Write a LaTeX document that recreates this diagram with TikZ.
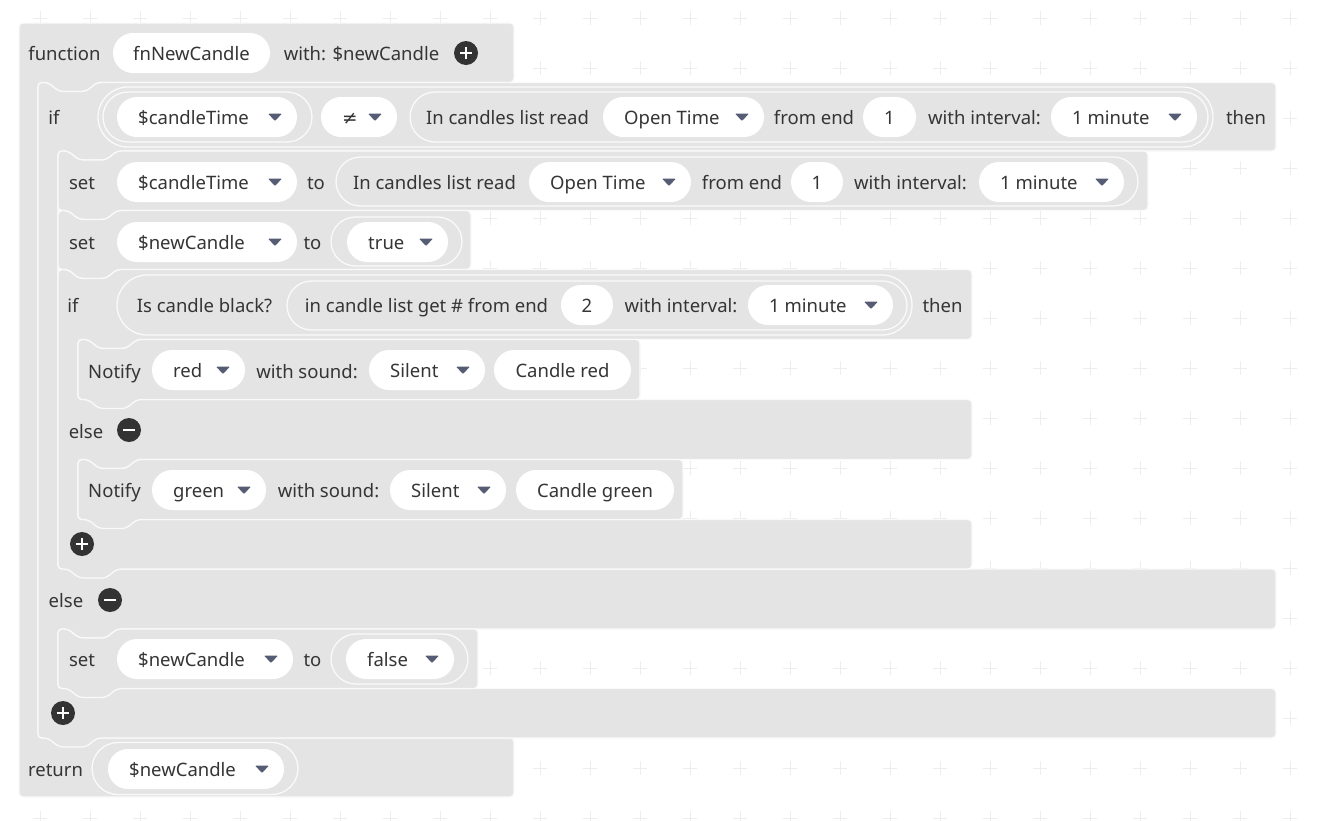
\documentclass[tikz,border=0pt]{standalone}
\usepackage{fontspec}
\setmainfont{Noto Sans}
\newfontfamily\symbolfont{DejaVu Sans}
\usepackage{xcolor}
\usepackage{tikz}
\usetikzlibrary{shapes.misc}

\definecolor{blockgray}{HTML}{E4E4E4}
\definecolor{edgewhite}{HTML}{FAFAFA}
\definecolor{labelgray}{HTML}{353535}
\definecolor{arrowslate}{HTML}{565C73}
\definecolor{icondark}{HTML}{333333}
\definecolor{gridgray}{HTML}{EDEDED}

% statement block: x1, x2, top, bottom
\newcommand{\stmtblock}[4]{%
  \draw[block] (#1,#3+10) -- (#1,#3) -- (#1+10,#3) -- (#1+21,#3+9) -- (#1+48,#3+9) -- (#1+59,#3)
    -- (#2,#3) -- (#2,#4) -- (#1+59,#4) -- (#1+48,#4+9) -- (#1+21,#4+9) -- (#1+10,#4) -- (#1,#4) -- cycle;}

% if/else block: x1, x2, then y0 ... y5
\newcommand{\ifelseblock}[8]{%
  \draw[block] (#1,#3+10) -- (#1,#3) -- (#1+10,#3) -- (#1+21,#3+9) -- (#1+48,#3+9) -- (#1+59,#3)
    -- (#2,#3) -- (#2,#4)
    -- (#1+79,#4) -- (#1+68,#4+9) -- (#1+41,#4+9) -- (#1+30,#4) -- (#1+20,#4) -- (#1+20,#5) -- (#2,#5) -- (#2,#6)
    -- (#1+79,#6) -- (#1+68,#6+9) -- (#1+41,#6+9) -- (#1+30,#6) -- (#1+20,#6) -- (#1+20,#7) -- (#2,#7) -- (#2,#8)
    -- (#1+59,#8) -- (#1+48,#8+9) -- (#1+21,#8+9) -- (#1+10,#8) -- (#1,#8) -- cycle;}

% value block outline: name, x1, x2, y, height
\newcommand{\reporter}[5]{%
  \node[reporter, minimum width={#3-#2}, minimum height=#5] (#1) at ({(#2+#3)/2},#4) {};}

% white field with dropdown: name, x1, x2, y, text
\newcommand{\dropfield}[5]{%
  \node[field, minimum width={#3-#2}] (#1) at ({(#2+#3)/2},#4) {};
  \node[blocktext, anchor=west] (#1_text) at (#2+21,#4) {#5};
  \fill[arrowslate, rounded corners=1pt] (#3-29,#4-3.5) -- (#3-15,#4-3.5) -- (#3-22,#4+4) -- cycle;}

% white field with plain text: name, x1, x2, y, text
\newcommand{\textfield}[5]{%
  \node[field, minimum width={#3-#2}] (#1) at ({(#2+#3)/2},#4) {#5};}

\begin{document}
\begin{tikzpicture}[x=1pt, y=-1pt,
  block/.style={fill=blockgray, draw=edgewhite, line width=1.3pt, rounded corners=4pt},
  reporter/.style={rounded rectangle, fill=blockgray, draw=edgewhite, line width=1.3pt, inner sep=0pt},
  field/.style={rounded rectangle, fill=white, inner sep=0pt, minimum height=40pt,
    text height=16pt, text depth=2pt, font=\fontsize{18.5}{22}\selectfont, text=labelgray},
  blocktext/.style={inner sep=0pt, text height=16pt, text depth=2pt,
    font=\fontsize{18.5}{22}\selectfont, text=labelgray},
  icon/.style={circle, fill=icondark, minimum size=24pt, inner sep=0pt},
  iconbar/.style={draw=white, line width=2.6pt},
  gridline/.style={draw=gridgray, line width=1pt}]
  \useasboundingbox (0,0) rectangle (1324,820);

  % Workspace grid
  \foreach \gx in {40,90,...,1290}
    \foreach \gy in {18,68,...,818}
      \draw[gridline] (\gx-7,\gy) -- (\gx+7,\gy) (\gx,\gy-7) -- (\gx,\gy+7);

  % Function block
  \draw[block] (19,30) -- (19,23) -- (514,23) -- (514,82.5) -- (97,82.5) -- (86,91.5) -- (59,91.5)
    -- (48,82.5) -- (38,82.5) -- (38,738) -- (514,738) -- (514,797) -- (19,797) -- cycle;

  % Outer if / else
  \ifelseblock{38}{1276}{82.5}{151}{569}{629}{688.5}{738}
  \stmtblock{58}{1148}{151}{210.5}
  \stmtblock{58}{471}{210.5}{269.5}

  % Inner if / else
  \ifelseblock{58}{972}{269.5}{339.5}{399.5}{459.5}{519.5}{569}
  \stmtblock{78}{640}{339.5}{399.5}
  \stmtblock{78}{683}{459.5}{519.5}

  % Else branch of outer if
  \stmtblock{58}{478}{629}{688.5}

  % Value blocks
  \reporter{cmp_block}{98}{1213}{117}{60}
  \reporter{var_block}{103}{312}{117}{50}
  \reporter{read_block_a}{410}{1208}{117}{50}
  \reporter{read_block_b}{336}{1138}{181.5}{49}
  \reporter{true_block}{331}{462}{241.5}{49}
  \reporter{black_block}{117}{912}{305}{60}
  \reporter{get_block}{287}{907}{305.5}{49}
  \reporter{false_block}{331}{468}{659}{50}
  \reporter{ret_block}{92}{298}{768.5}{52}

  % Function header
  \node[blocktext] (fn_label) at (64.5,53) {function};
  \textfield{fn_name}{113}{270}{53}{fnNewCandle}
  \node[blocktext] (fn_args) at (361.5,53) {with: \$newCandle};
  \node[icon] (fn_plus) at (466,53) {};
  \draw[iconbar] ([xshift=-6pt]fn_plus.center) -- ([xshift=6pt]fn_plus.center)
    ([yshift=-6pt]fn_plus.center) -- ([yshift=6pt]fn_plus.center);

  % Outer if row
  \node[blocktext] (if_a) at (54,117) {if};
  \dropfield{cond_var}{117}{297}{117}{\$candleTime}
  \dropfield{cond_op}{321}{397}{117}{{\symbolfont ≠}}
  \node[blocktext] (read_a) at (507.5,117) {In candles list read};
  \dropfield{col_a}{603}{764}{117}{Open Time}
  \node[blocktext] (end_a) at (814,117) {from end};
  \textfield{idx_a}{863}{916}{117}{1}
  \node[blocktext] (int_a) at (984.5,117) {with interval:};
  \dropfield{min_a}{1051}{1197}{117}{1 minute}
  \node[blocktext] (then_a) at (1246,117) {then};

  % set $candleTime
  \node[blocktext] (set_a) at (82,182) {set};
  \dropfield{set_var_a}{117}{297}{182}{\$candleTime}
  \node[blocktext] (to_a) at (316,182) {to};
  \node[blocktext] (read_b) at (434.5,182) {In candles list read};
  \dropfield{col_b}{529}{691}{182}{Open Time}
  \node[blocktext] (end_b) at (742,182) {from end};
  \textfield{idx_b}{791}{843}{182}{1}
  \node[blocktext] (int_b) at (910.5,182) {with interval:};
  \dropfield{min_b}{979}{1124}{182}{1 minute}

  % set $newCandle to true
  \node[blocktext] (set_b) at (82,242) {set};
  \dropfield{set_var_b}{117}{297}{242}{\$newCandle}
  \node[blocktext] (to_b) at (312.5,242) {to};
  \dropfield{val_true}{347}{448}{242}{true}

  % Inner if row
  \node[blocktext] (if_b) at (73,305) {if};
  \node[blocktext] (black_q) at (204.5,305) {Is candle black?};
  \node[blocktext] (get_txt) at (426.5,305) {in candle list get \# from end};
  \textfield{idx_c}{561}{613}{305}{2}
  \node[blocktext] (int_c) at (681,305) {with interval:};
  \dropfield{min_c}{748}{893}{305}{1 minute}
  \node[blocktext] (then_b) at (942.5,305) {then};

  % Notify red
  \node[blocktext] (notify_a) at (114.5,371) {Notify};
  \dropfield{col_red}{152}{245}{370}{red}
  \node[blocktext] (sound_a) at (307,371) {with sound:};
  \dropfield{silent_a}{369}{485}{370}{Silent}
  \textfield{msg_red}{494}{631}{370}{Candle red}

  % Inner else
  \node[blocktext] (else_b) at (86,431) {else};
  \node[icon] (else_b_minus) at (129,430) {};
  \draw[iconbar] ([xshift=-6pt]else_b_minus.center) -- ([xshift=6pt]else_b_minus.center);

  % Notify green
  \node[blocktext] (notify_b) at (114.5,490) {Notify};
  \dropfield{col_green}{152}{266}{490}{green}
  \node[blocktext] (sound_b) at (328.5,490) {with sound:};
  \dropfield{silent_b}{390}{506}{490}{Silent}
  \textfield{msg_green}{516}{674}{490}{Candle green}

  \node[icon] (inner_plus) at (82,544) {};
  \draw[iconbar] ([xshift=-6pt]inner_plus.center) -- ([xshift=6pt]inner_plus.center)
    ([yshift=-6pt]inner_plus.center) -- ([yshift=6pt]inner_plus.center);

  % Outer else
  \node[blocktext] (else_a) at (66,600) {else};
  \node[icon] (else_a_minus) at (110,600) {};
  \draw[iconbar] ([xshift=-6pt]else_a_minus.center) -- ([xshift=6pt]else_a_minus.center);

  % set $newCandle to false
  \node[blocktext] (set_c) at (82,659) {set};
  \dropfield{set_var_c}{117}{293}{659}{\$newCandle}
  \node[blocktext] (to_c) at (312.5,659) {to};
  \dropfield{val_false}{346}{454}{659}{false}

  \node[icon] (outer_plus) at (63,713) {};
  \draw[iconbar] ([xshift=-6pt]outer_plus.center) -- ([xshift=6pt]outer_plus.center)
    ([yshift=-6pt]outer_plus.center) -- ([yshift=6pt]outer_plus.center);

  % Return
  \node[blocktext] (ret_label) at (55.5,769) {return};
  \dropfield{ret_var}{108}{284}{769}{\$newCandle}
\end{tikzpicture}
\end{document}
